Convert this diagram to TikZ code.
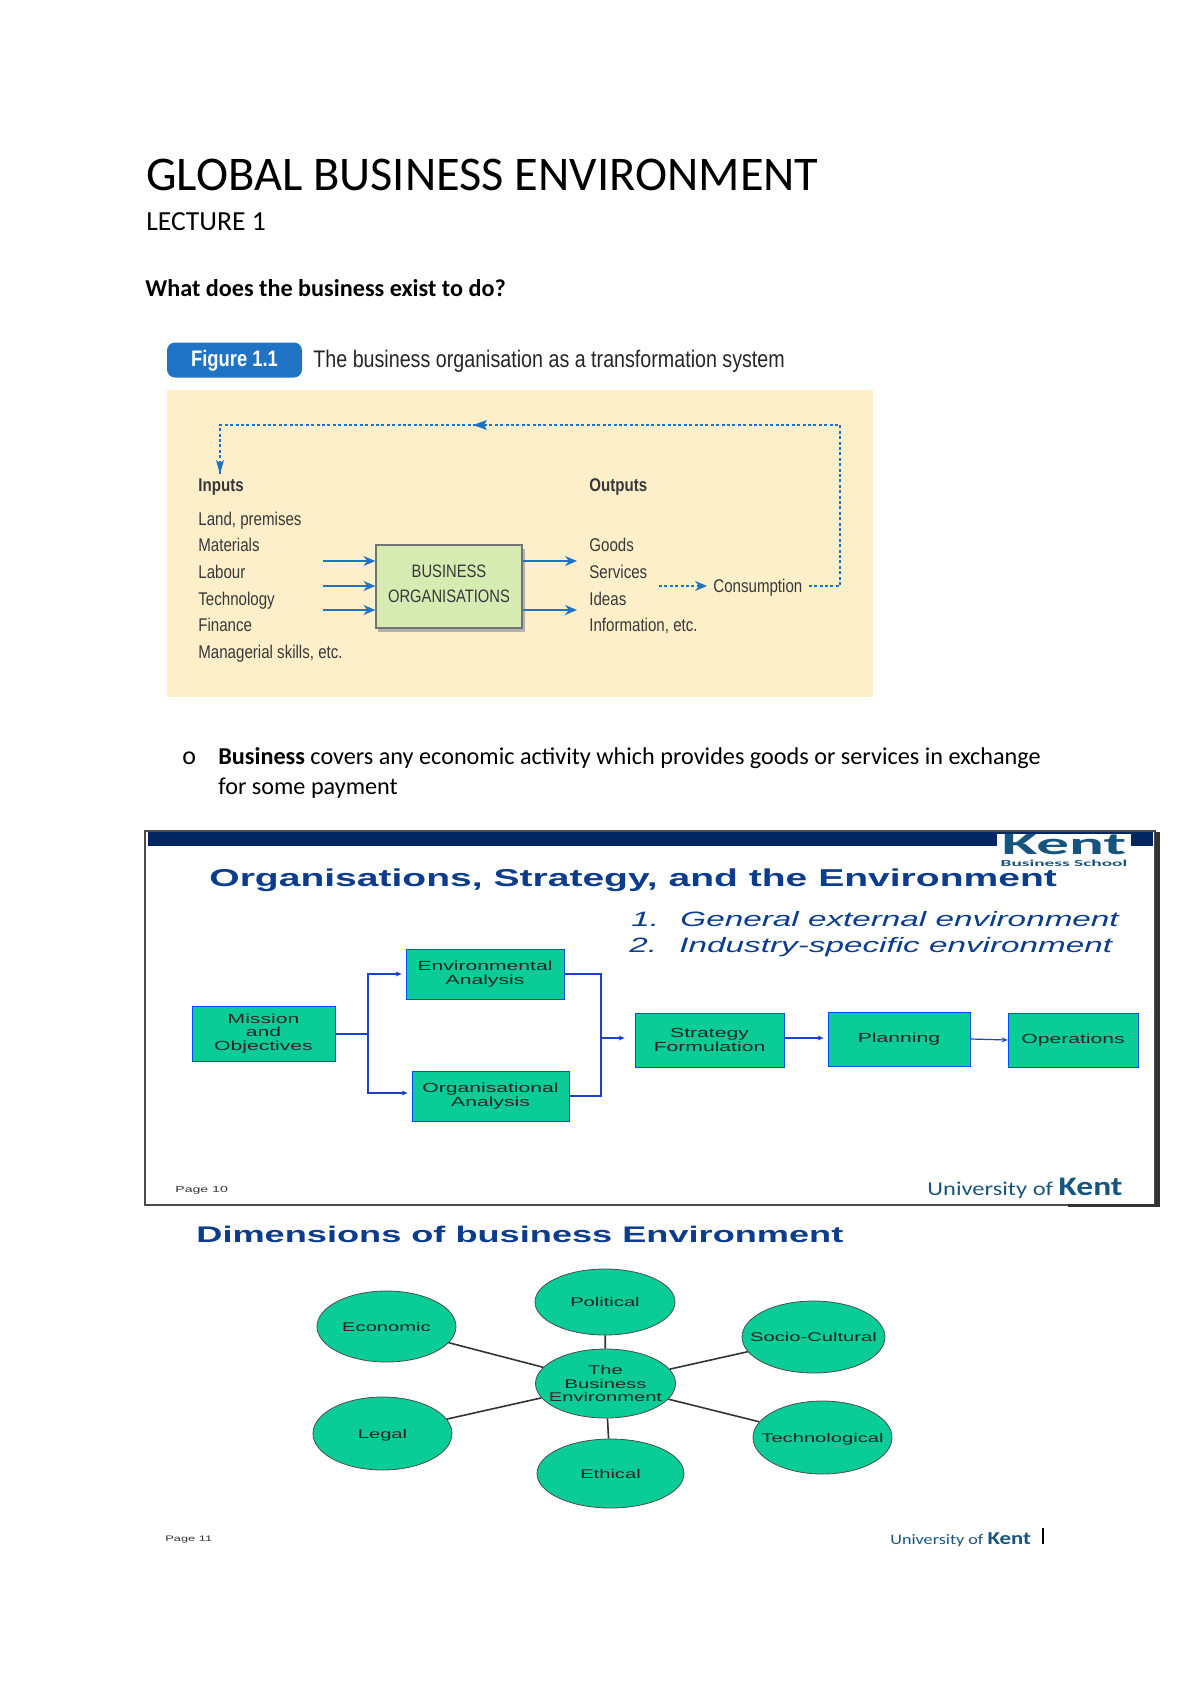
\documentclass[tikz,border=0pt]{standalone}
\usepackage{fontspec}
\usepackage{tikz}
\usetikzlibrary{shapes.geometric, arrows.meta}
\setmainfont{Carlito}
\newfontfamily\figfont[FakeStretch=0.82]{Liberation Sans}
\newfontfamily\slidefont[FakeStretch=1.6]{Liberation Sans}
\newfontfamily\kentfont[FakeStretch=1.25]{Carlito}
\newfontfamily\logofont[FakeStretch=2.1]{Carlito}
\definecolor{panelcol}{HTML}{FDEFC9}
\definecolor{boxcol}{HTML}{D5EBB2}
\definecolor{figblue}{HTML}{1F73C4}
\definecolor{navycol}{HTML}{02265F}
\definecolor{slideblue}{HTML}{0B3C8E}
\definecolor{linkblue}{HTML}{1D3FCE}
\definecolor{slidegreen}{HTML}{0ACC96}
\definecolor{kentcol}{HTML}{17557F}
\tikzset{
	doctext/.style={anchor=west, inner sep=0pt, text=black, font=\fontsize{12.1}{14}\selectfont},
	figtext/.style={anchor=west, inner sep=0pt, text height=8pt, text depth=2pt, text=black!78, font=\figfont\fontsize{9.2}{12}\selectfont},
	figbold/.style={figtext, font=\figfont\bfseries\fontsize{9.2}{12}\selectfont},
	figline/.style={figblue, line width=0.9pt, -{Stealth[length=6pt,width=5pt]}},
	figdash/.style={figblue, line width=0.7pt, dash pattern=on 1.5pt off 1.2pt},
	slidebox/.style={draw=blue!70!cyan, line width=0.4pt, fill=slidegreen, inner sep=0pt, align=center,
		text=black!85, font=\slidefont\fontsize{6.6}{6.6}\selectfont},
	slideoval/.style={ellipse, draw=black!70, line width=0.4pt, fill=slidegreen, inner xsep=-20pt, inner ysep=-10pt, align=center,
		text=black!85, font=\slidefont\fontsize{6.3}{6.6}\selectfont},
	slidelink/.style={linkblue, line width=0.6pt},
	slidearrow/.style={slidelink, -{Stealth[length=3pt,width=2.5pt]}, shorten >=2pt},
	spoke/.style={black!80, line width=0.8pt},
	slidetitle/.style={anchor=west, inner sep=0pt, text=slideblue, font=\slidefont\bfseries\fontsize{12.2}{14}\selectfont},
	slideitem/.style={anchor=west, inner sep=0pt, text height=8pt, text depth=2pt, text=slideblue, font=\slidefont\itshape\fontsize{10.4}{12}\selectfont},
	pagelabel/.style={anchor=west, inner sep=0pt, text=black!80, font=\slidefont\fontsize{4.2}{5}\selectfont},
	unilabel/.style={anchor=west, inner sep=0pt, text=kentcol, font=\kentfont\fontsize{9.8}{10}\selectfont},
}
\begin{document}
\begin{tikzpicture}[x=0.5pt, y=-0.5pt]
	\useasboundingbox (0,0) rectangle (1200,1698);
	
	% Page heading
	\node[doctext, font=\fontsize{24.2}{28}\selectfont] (heading) at (146,175) {GLOBAL BUSINESS ENVIRONMENT};
	\node[doctext, font=\fontsize{13.8}{16}\selectfont] (lecture) at (146,222) {LECTURE 1};
	\node[doctext, font=\bfseries\fontsize{12.1}{14}\selectfont] (question) at (145,288) {What does the business exist to do?};
	
	% Figure 1.1
	\node[fill=figblue, rounded corners=4pt, minimum width=67.5pt, minimum height=17.5pt, inner sep=0pt, text height=8.5pt, text depth=2.5pt,
		text=white, font=\figfont\bfseries\fontsize{11.2}{13}\selectfont] (pill) at (234.5,360) {Figure 1.1};
	\node[figtext, text height=8.5pt, text=black!85, font=\figfont\fontsize{12}{13}\selectfont] (caption) at (313,361) {The business organisation as a transformation system};
	\fill[panelcol] (167,390) rectangle (873,697);
	
	\node[figbold] (inputs) at (198,485) {Inputs};
	\node[figtext] (land) at (198,519) {Land, premises};
	\node[figtext] (materials) at (198,545) {Materials};
	\node[figtext] (labour) at (198,572) {Labour};
	\node[figtext] (technology) at (198,599) {Technology};
	\node[figtext] (finance) at (198,625) {Finance};
	\node[figtext] (skills) at (198,652) {Managerial skills, etc.};
	
	\node[figbold] (outputs) at (589,485) {Outputs};
	\node[figtext] (goods) at (589,545) {Goods};
	\node[figtext] (services) at (589,572) {Services};
	\node[figtext] (ideas) at (589,599) {Ideas};
	\node[figtext] (information) at (589,625) {Information, etc.};
	\node[figtext] (consumption) at (713,586) {Consumption};
	
	\fill[black!30] (378,549) rectangle (525,632);
	\node[draw=black!55, line width=0.6pt, fill=boxcol, minimum width=73pt, minimum height=41.5pt, inner sep=0pt] (business) at (449,586.5) {};
	\node[inner sep=0pt, align=center, text=black!78, font=\figfont\fontsize{9}{12.4}\selectfont] (businessLabel) at (449,583.5) {BUSINESS\\ORGANISATIONS};
	
	% Define coordinates
	\coordinate (inA) at (323,561);
	\coordinate (inB) at (323,586);
	\coordinate (inC) at (323,610);
	\coordinate (outA) at (577,561);
	\coordinate (outB) at (577,610);
	\coordinate (loopStart) at (840,586);
	\coordinate (loopTop) at (840,425);
	\coordinate (loopMid) at (480,425);
	\coordinate (loopLeft) at (220,425);
	\coordinate (loopEnd) at (220,474);
	\coordinate (dotStart) at (659,586);
	
	\draw[figline] (inA) -- (inA -| business.west);
	\draw[figline] (inB) -- (inB -| business.west);
	\draw[figline] (inC) -- (inC -| business.west);
	\draw[figline] (outA -| business.east) -- (outA);
	\draw[figline] (outB -| business.east) -- (outB);
	\draw[figdash, -{Stealth[length=6pt,width=5pt]}, shorten >=3pt] (dotStart) -- (consumption.west);
	\draw[figdash, shorten <=3pt] (consumption.east) -- (loopStart) -- (loopTop) -- (loopLeft) -- (loopEnd);
	\fill[figblue] (loopMid) ++(-7,0) -- ++(14,-5) -- ++(-3,5) -- ++(3,5) -- cycle;
	\fill[figblue] (loopEnd) ++(0,0) -- ++(-4,-14) -- ++(4,3) -- ++(4,-3) -- cycle;
	
	% Bullet
	\node[doctext, font=\fontsize{13}{14}\selectfont] (bullet) at (182,758) {o};
	\node[doctext] (bulletA) at (218,758) {\textbf{Business} covers any economic activity which provides goods or services in exchange};
	\node[doctext] (bulletB) at (218,788) {for some payment};
	
	% First slide
	\draw[black!70, line width=0.6pt] (145,831) rectangle (1155,1205);
	\fill[black!80] (1155,832) rectangle (1160,1207);
	\fill[black!80] (1068,1204) rectangle (1160,1207);
	\fill[navycol] (148,832) rectangle (1153,846);
	\fill[white] (997,834) rectangle (1131,866);
	\node[inner sep=0pt, text=kentcol, font=\logofont\bfseries\fontsize{15.5}{16}\selectfont] (kent) at (1064,845) {Kent};
	\node[inner sep=0pt, text=kentcol, font=\logofont\bfseries\fontsize{4.6}{5}\selectfont] (school) at (1064,863) {Business School};
	\node[slidetitle] (orgtitle) at (209,880) {Organisations, Strategy, and the Environment};
	\node[slideitem] (itemOneNum) at (631,920) {1.};
	\node[slideitem] (itemOne) at (680,920) {General external environment};
	\node[slideitem] (itemTwoNum) at (629,946) {2.};
	\node[slideitem] (itemTwo) at (679,946) {Industry-specific environment};
	
	\node[slidebox, minimum width=71.5pt, minimum height=27.5pt] (mission) at (263.5,1033.5) {Mission\\and\\Objectives};
	\node[slidebox, minimum width=79pt, minimum height=25pt] (env) at (485,974) {Environmental\\Analysis};
	\node[slidebox, minimum width=78.5pt, minimum height=25pt] (org) at (490.5,1096) {Organisational\\Analysis};
	\node[slidebox, minimum width=74.5pt, minimum height=27pt] (strategy) at (709.5,1040) {Strategy\\Formulation};
	\node[slidebox, minimum width=71pt, minimum height=27pt] (planning) at (899,1039) {Planning};
	\node[slidebox, minimum width=65pt, minimum height=27pt] (operations) at (1073,1040) {Operations};
	
	% Define coordinates
	\coordinate (busLeft) at (368,1034);
	\coordinate (busRight) at (601,1038);
	
	\draw[slidelink] (mission.east |- busLeft) -- (busLeft);
	\draw[slidearrow] (busLeft) |- (env.west);
	\draw[slidearrow] (busLeft) |- ([yshift=1.5pt]org.west);
	\draw[slidelink] (env.east) -| (busRight);
	\draw[slidelink] (org.east) -| (busRight);
	\draw[slidearrow, shorten >=5pt] (busRight) -- (busRight -| strategy.west);
	\draw[slidearrow] (strategy.east |- busRight) -- (busRight -| planning.west);
	\draw[slidearrow, shorten >=0pt] (planning.east) -- (operations.west);
	
	\node[pagelabel, font=\slidefont\fontsize{4.4}{5}\selectfont] (pageTen) at (175,1190) {Page 10};
	\node[unilabel] (uniTen) at (927,1188) {University of {\fontsize{13.4}{10}\selectfont\textbf{Kent}}};
	
	% Second slide
	\node[slidetitle, font=\slidefont\bfseries\fontsize{11.3}{14}\selectfont] (dimtitle) at (196,1234) {Dimensions of business Environment};
	
	\node[slideoval, minimum width=70pt, minimum height=34.5pt] (centre) at (605.5,1383.5) {The\\Business\\Environment};
	\node[slideoval, minimum width=70pt, minimum height=33pt] (political) at (605,1302) {Political};
	\node[slideoval, minimum width=69.5pt, minimum height=35.5pt] (economic) at (386.5,1326.5) {Economic};
	\node[slideoval, minimum width=71.5pt, minimum height=36pt] (socio) at (813.5,1337) {Socio-Cultural};
	\node[slideoval, text depth=0pt, minimum width=69.5pt, minimum height=36.5pt] (legal) at (382.5,1433.5) {Legal};
	\node[slideoval, minimum width=73.5pt, minimum height=34.5pt] (ethical) at (610.5,1473.5) {Ethical};
	\node[slideoval, text depth=0pt, minimum width=69.5pt, minimum height=36.5pt] (techno) at (822.5,1437.5) {Technological};
	
	\draw[spoke] (centre) -- (political);
	\draw[spoke] (centre) -- (economic);
	\draw[spoke] (centre) -- (socio);
	\draw[spoke] (centre) -- (legal);
	\draw[spoke] (centre) -- (ethical);
	\draw[spoke] (centre) -- (techno);
	
	\node[pagelabel, font=\slidefont\fontsize{4}{5}\selectfont] (pageEleven) at (165,1540) {Page 11};
	\node[unilabel, font=\kentfont\fontsize{7.25}{8}\selectfont] (uniEleven) at (890,1540) {University of {\fontsize{9.1}{8}\selectfont\textbf{Kent}}};
	\draw[black, line width=1pt] (1043,1528) -- (1043,1544);
\end{tikzpicture}
\end{document}
